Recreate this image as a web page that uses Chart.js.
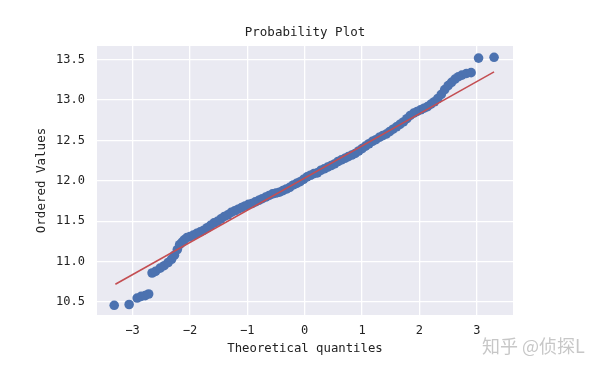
<!DOCTYPE html>
<html>
<head>
<meta charset="utf-8">
<script src="https://cdn.jsdelivr.net/npm/chart.js@4.4.0/dist/chart.umd.min.js"></script>
<style>
  body { margin: 0; background: #fff; }
</style>
</head>
<body>
<canvas id="qq" width="600" height="368"></canvas>
<script>
// cuantiles teóricos y valores ordenados
const qx = [-3.32, -3.06, -2.92, -2.85, -2.78, -2.72, -2.66, -2.60, -2.52, -2.45,
  -2.38, -2.32, -2.27, -2.22, -2.18, -2.14, -2.10, -2.05, -2.00, -1.94,
  -1.88, -1.82, -1.76, -1.70, -1.64, -1.58, -1.52, -1.46, -1.40, -1.34,
  -1.28, -1.22, -1.16, -1.10, -1.04, -0.98, -0.92, -0.86, -0.80, -0.74,
  -0.68, -0.62, -0.56, -0.50, -0.44, -0.38, -0.32, -0.26, -0.20, -0.14,
  -0.08, -0.02, 0.04, 0.10, 0.16, 0.22, 0.28, 0.34, 0.40, 0.46,
  0.52, 0.58, 0.64, 0.70, 0.76, 0.82, 0.88, 0.94, 1.00, 1.06,
  1.12, 1.18, 1.24, 1.30, 1.36, 1.42, 1.48, 1.54, 1.60, 1.66,
  1.72, 1.78, 1.84, 1.90, 1.96, 2.02, 2.08, 2.14, 2.20, 2.26,
  2.32, 2.38, 2.44, 2.50, 2.56, 2.62, 2.68, 2.74, 2.82, 2.90,
  3.03, 3.30];
const qy = [10.46, 10.47, 10.55, 10.57, 10.58, 10.60, 10.86, 10.88, 10.92, 10.95,
  10.99, 11.03, 11.08, 11.15, 11.21, 11.24, 11.27, 11.30, 11.31, 11.33,
  11.35, 11.37, 11.39, 11.42, 11.45, 11.48, 11.50, 11.53, 11.56, 11.58,
  11.61, 11.63, 11.65, 11.67, 11.69, 11.71, 11.72, 11.74, 11.76, 11.78,
  11.80, 11.82, 11.84, 11.85, 11.86, 11.88, 11.90, 11.92, 11.95, 11.97,
  11.99, 12.02, 12.05, 12.07, 12.09, 12.10, 12.13, 12.15, 12.17, 12.19,
  12.21, 12.24, 12.26, 12.28, 12.30, 12.32, 12.34, 12.37, 12.40, 12.43,
  12.46, 12.49, 12.51, 12.54, 12.56, 12.58, 12.61, 12.64, 12.67, 12.70,
  12.73, 12.77, 12.81, 12.84, 12.86, 12.88, 12.90, 12.92, 12.95, 12.98,
  13.02, 13.07, 13.13, 13.18, 13.22, 13.26, 13.29, 13.31, 13.33, 13.34,
  13.52, 13.53];

// recta de ajuste (extremos)
const fitX = [-3.30, 3.30];
const fitY = [10.72, 13.35];

const xTicks = [-3, -2, -1, 0, 1, 2, 3];
const yTicks = [10.5, 11.0, 11.5, 12.0, 12.5, 13.0, 13.5];

const monoFont = "'DejaVu Sans Mono', monospace";

// fondo gris del área de trazado y marca de agua
const plotBg = {
  id: 'plotBg',
  beforeDraw(chart) {
    const a = chart.chartArea, c = chart.ctx;
    c.save();
    c.fillStyle = '#EAEAF2';
    c.fillRect(a.left, a.top, a.right - a.left, a.bottom - a.top);
    c.restore();
  },
  afterDraw(chart) {
    const c = chart.ctx;
    c.save();
    c.fillStyle = 'rgba(175,175,175,0.7)';
    c.font = "18px 'Noto Sans CJK SC'";
    c.textBaseline = 'alphabetic';
    c.fillText('知乎 @侦探L', 482, 353);
    c.restore();
  }
};

const ctx = document.getElementById('qq').getContext('2d');
const chart = new Chart(ctx, {
  data: {
    datasets: [{
      type: 'line',
      data: fitX.map((x, i) => ({ x: x, y: fitY[i] })),
      borderColor: '#C44E52',
      borderWidth: 1.6,
      pointRadius: 0,
      order: 0
    }, {
      type: 'scatter',
      data: qx.map((x, i) => ({ x: x, y: qy[i] })),
      backgroundColor: '#4C72B0',
      borderColor: '#4C72B0',
      borderWidth: 0,
      pointRadius: 4.8,
      order: 1
    }]
  },
  options: {
    responsive: false,
    animation: false,
    layout: { padding: { left: 0, right: 87, top: 0, bottom: 0 } },
    plugins: {
      legend: { display: false },
      tooltip: { enabled: false },
      title: {
        display: true,
        fullSize: false,
        text: 'Probability Plot',
        color: '#222',
        font: { family: monoFont, size: 12.5, weight: 'normal', lineHeight: 1.2 },
        padding: { top: 25, bottom: 6 }
      }
    },
    scales: {
      x: {
        type: 'linear',
        min: -3.62,
        max: 3.63,
        afterBuildTicks(s) { s.ticks = xTicks.map(v => ({ value: v })); },
        afterFit(s) { s.height = 53; },
        border: { display: false },
        grid: { color: '#FFFFFF', lineWidth: 1.3, drawTicks: false },
        ticks: {
          color: '#222',
          padding: 9,
          font: { family: monoFont, size: 12 },
          callback: v => (v < 0 ? '\u2212' + Math.abs(v) : String(v))
        },
        title: {
          display: true,
          text: 'Theoretical quantiles',
          color: '#222',
          font: { family: monoFont, size: 12.3, lineHeight: 1.2 },
          padding: { top: 0, bottom: 12 }
        }
      },
      y: {
        type: 'linear',
        min: 10.34,
        max: 13.67,
        afterBuildTicks(s) { s.ticks = yTicks.map(v => ({ value: v })); },
        afterFit(s) { s.width = 97; },
        border: { display: false },
        grid: { color: '#FFFFFF', lineWidth: 1.3, drawTicks: false },
        ticks: {
          color: '#222',
          padding: 12,
          font: { family: monoFont, size: 12 },
          callback: v => v.toFixed(1)
        },
        title: {
          display: true,
          text: 'Ordered Values',
          color: '#222',
          font: { family: monoFont, size: 12.5, lineHeight: 1.2 },
          padding: { top: 34, bottom: 0 }
        }
      }
    }
  },
  plugins: [plotBg]
});
</script>
</body>
</html>
